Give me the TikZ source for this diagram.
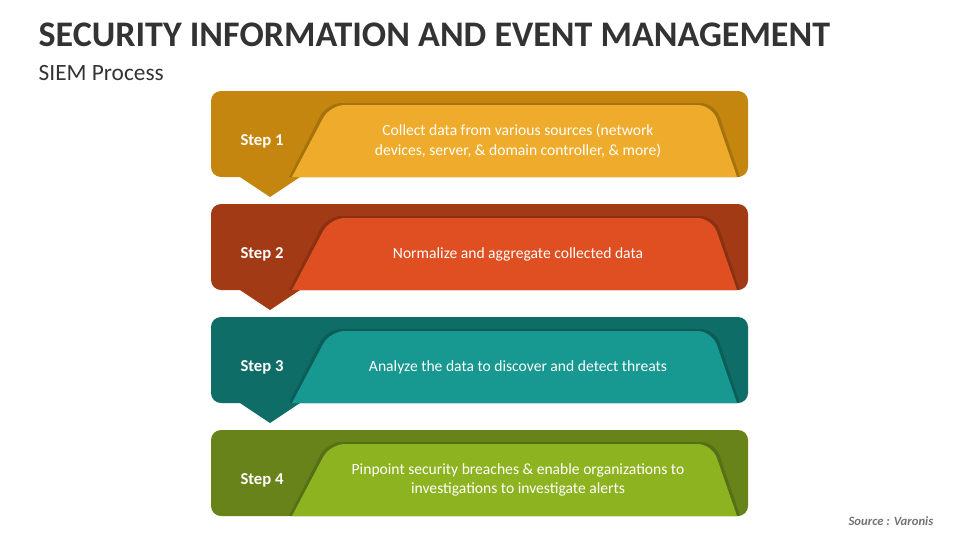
\documentclass[tikz,border=0pt]{standalone}
\usepackage{fontspec}
\setmainfont{Carlito}
\begin{document}
\begin{tikzpicture}[x=0.75pt,y=-0.75pt,
  outerbox/.style={rounded corners=7.5pt},
  lbl/.style={text=white,font=\bfseries\fontsize{12.5}{14}\selectfont},
  body/.style={text=white,align=center,font=\fontsize{11.7}{14.5}\selectfont}]
\useasboundingbox (0,0) rectangle (960,540);
\definecolor{dA}{HTML}{C4860F}\definecolor{lA}{HTML}{EFAC2C}
\definecolor{dB}{HTML}{A33A16}\definecolor{lB}{HTML}{DF4F22}
\definecolor{dC}{HTML}{0E6E67}\definecolor{lC}{HTML}{179890}
\definecolor{dD}{HTML}{67831A}\definecolor{lD}{HTML}{8DB320}
\node[anchor=west,text=black!80,font=\bfseries\fontsize{27}{30}\selectfont] (title) at (34,35) {SECURITY INFORMATION AND EVENT MANAGEMENT};
\node[anchor=west,text=black!80,font=\fontsize{17.5}{20}\selectfont] (sub) at (34,73) {SIEM Process};
\node[anchor=east,text=black!55,font=\bfseries\itshape\fontsize{9.5}{11}\selectfont] (src) at (938,521) {Source : Varonis};
\foreach \i/\y/\d/\l/\t in {1/91/dA/lA/{Collect data from various sources (network\\devices, server, \& domain controller, \& more)},
  2/204/dB/lB/{Normalize and aggregate collected data},
  3/317/dC/lC/{Analyze the data to discover and detect threats},
  4/430/dD/lD/{Pinpoint security breaches \& enable organizations to\\investigations to investigate alerts}}{
  \ifnum\i<4 \fill[\d] (240,\y+86) -- (300,\y+86) -- (270,\y+106) -- cycle;\fi
  \fill[\d,outerbox] (211,\y) rectangle (748,\y+86);
  \fill[black,opacity=0.15,rounded corners=11pt] (289,\y+86) -- (327,\y+12) -- (715,\y+12) -- (740,\y+86);
  \fill[\l,rounded corners=11pt] (292,\y+86) -- (330,\y+14) -- (712,\y+14) -- (737,\y+86);
  \node[lbl] (s\i) at (262,\y+50) {Step \i};
  \node[body] (t\i) at (518,\y+50) {\t};
}
\end{tikzpicture}
\end{document}
